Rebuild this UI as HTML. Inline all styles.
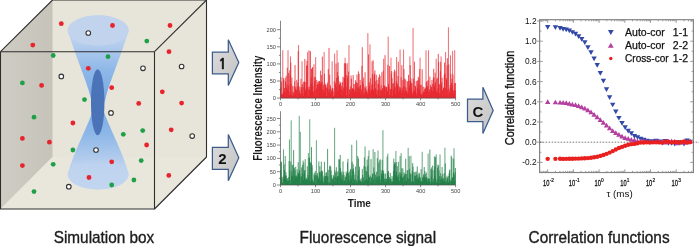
<!DOCTYPE html><html><head><meta charset="utf-8"><title>FCS simulation</title>
<style>html,body{margin:0;padding:0;background:#fff;overflow:hidden}svg{display:block}text{font-family:"Liberation Sans", Arial, sans-serif}</style></head><body>
<svg width="700" height="246" viewBox="0 0 700 246">
<defs>
<linearGradient id="cone" x1="0" y1="0" x2="0" y2="1">
<stop offset="0" stop-color="#c1d4ee"/><stop offset="0.14" stop-color="#bbd1ee"/><stop offset="0.32" stop-color="#8db7e8"/><stop offset="0.5" stop-color="#78a9e3"/><stop offset="0.68" stop-color="#8db7e8"/><stop offset="0.86" stop-color="#bbd1ee"/><stop offset="1" stop-color="#c1d4ee"/>
</linearGradient>
<linearGradient id="bell" x1="0" y1="0" x2="0" y2="1"><stop offset="0" stop-color="#c1d5f0" stop-opacity="0.12"/><stop offset="0.5" stop-color="#c1d5f0" stop-opacity="0.7"/><stop offset="1" stop-color="#c1d5f0" stop-opacity="1"/></linearGradient>
<linearGradient id="lwall" x1="0" y1="0" x2="1" y2="0"><stop offset="0" stop-color="#cfccc3"/><stop offset="1" stop-color="#c6c3ba"/></linearGradient>
<linearGradient id="arr" x1="0" y1="0" x2="1" y2="1"><stop offset="0" stop-color="#dcdcdc"/><stop offset="1" stop-color="#c4c4c4"/></linearGradient>
</defs>
<rect width="700" height="246" fill="#fff"/>
<g id="box">
<polygon points="0.5,51.7 52.5,2.831068712794149e-15 206.5,2.831068712794149e-15 206.5,157.0 154.5,209.0 0.5,209.0" fill="#e7e5d9"/>
<polygon points="0.5,51.7 52.5,2.831068712794149e-15 52.5,157.0 0.5,209.0" fill="url(#lwall)"/>
<polygon points="0.5,209.0 52.5,157.0 206.5,157.0 154.5,209.0" fill="#e9e7dc"/>
</g>
<g id="beam">
<path d="M98.20,15.30 L88.92,16.03 L85.23,16.75 L82.52,17.48 L80.33,18.20 L78.49,18.93 L76.90,19.66 L75.52,20.38 L74.30,21.11 L73.23,21.83 L72.28,22.56 L71.44,23.28 L70.71,24.01 L70.07,24.74 L69.52,25.46 L69.05,26.19 L68.66,26.91 L68.34,27.64 L68.10,28.37 L67.93,29.09 L67.83,29.82 L67.80,30.54 L67.84,31.27 L67.95,31.99 L68.13,32.72 L68.38,33.45 L68.70,34.17 L69.10,34.90 L69.35,35.62 L69.58,36.35 L69.81,37.08 L70.05,37.80 L70.28,38.53 L70.52,39.25 L70.76,39.98 L71.00,40.70 L71.24,41.43 L71.48,42.16 L71.73,42.88 L71.98,43.61 L72.23,44.33 L72.48,45.06 L72.73,45.78 L72.98,46.51 L73.23,47.24 L73.49,47.96 L73.75,48.69 L74.00,49.41 L74.26,50.14 L74.52,50.87 L74.78,51.59 L75.04,52.32 L75.30,53.04 L75.56,53.77 L75.83,54.50 L76.09,55.22 L76.36,55.95 L76.62,56.67 L76.89,57.40 L77.15,58.12 L77.42,58.85 L77.68,59.58 L77.95,60.30 L78.22,61.03 L78.49,61.75 L78.75,62.48 L79.02,63.20 L79.29,63.93 L79.56,64.66 L79.83,65.38 L80.09,66.11 L80.36,66.83 L80.63,67.56 L80.90,68.29 L81.16,69.01 L81.43,69.74 L81.70,70.46 L81.97,71.19 L82.23,71.91 L82.50,72.64 L82.76,73.37 L83.03,74.09 L83.29,74.82 L83.55,75.54 L83.82,76.27 L84.08,77.00 L84.34,77.72 L84.60,78.45 L84.86,79.17 L85.11,79.90 L85.37,80.62 L85.62,81.35 L85.88,82.08 L86.13,82.80 L86.38,83.53 L86.63,84.25 L86.88,84.98 L87.12,85.71 L87.36,86.43 L87.60,87.16 L87.84,87.88 L88.08,88.61 L88.31,89.33 L88.54,90.06 L88.76,90.79 L88.98,91.51 L89.20,92.24 L89.42,92.96 L89.63,93.69 L89.83,94.42 L90.03,95.14 L90.23,95.87 L90.41,96.59 L90.60,97.32 L90.77,98.04 L90.94,98.77 L91.10,99.50 L91.30,100.22 L91.60,100.95 L91.89,101.67 L92.15,102.40 L92.39,103.13 L92.60,103.85 L92.78,104.58 L92.92,105.30 L93.02,106.03 L93.09,106.75 L93.11,107.48 L93.10,108.21 L93.04,108.93 L92.95,109.66 L92.82,110.38 L92.65,111.11 L92.45,111.84 L92.21,112.56 L91.95,113.29 L91.68,114.01 L91.41,114.74 L91.14,115.46 L90.86,116.19 L90.57,116.92 L90.28,117.64 L89.98,118.37 L89.69,119.09 L89.39,119.82 L89.08,120.55 L88.78,121.27 L88.47,122.00 L88.16,122.72 L87.85,123.45 L87.54,124.17 L87.22,124.90 L86.91,125.63 L86.59,126.35 L86.28,127.08 L85.96,127.80 L85.64,128.53 L85.32,129.26 L85.00,129.98 L84.68,130.71 L84.36,131.43 L84.04,132.16 L83.71,132.88 L83.39,133.61 L83.07,134.34 L82.75,135.06 L82.43,135.79 L82.11,136.51 L81.78,137.24 L81.46,137.97 L81.14,138.69 L80.82,139.42 L80.50,140.14 L80.18,140.87 L79.86,141.59 L79.55,142.32 L79.23,143.05 L78.91,143.77 L78.60,144.50 L78.28,145.22 L77.97,145.95 L77.66,146.68 L77.35,147.40 L77.04,148.13 L76.73,148.85 L76.43,149.58 L76.12,150.31 L75.82,151.03 L75.52,151.76 L75.22,152.48 L74.92,153.21 L74.63,153.93 L74.33,154.66 L74.04,155.39 L73.76,156.11 L73.47,156.84 L73.19,157.56 L72.91,158.29 L72.64,159.02 L72.36,159.74 L72.09,160.47 L71.83,161.19 L71.56,161.92 L71.31,162.64 L71.05,163.37 L70.80,164.10 L70.55,164.82 L70.31,165.55 L70.07,166.27 L69.84,167.00 L69.61,167.73 L69.39,168.45 L69.17,169.18 L68.96,169.90 L68.70,170.63 L68.38,171.35 L68.13,172.08 L67.95,172.81 L67.84,173.53 L67.80,174.26 L67.83,174.98 L67.93,175.71 L68.10,176.43 L68.34,177.16 L68.66,177.89 L69.05,178.61 L69.52,179.34 L70.07,180.06 L70.71,180.79 L71.44,181.52 L72.28,182.24 L73.23,182.97 L74.30,183.69 L75.52,184.42 L76.90,185.14 L78.49,185.87 L80.33,186.60 L82.52,187.32 L85.23,188.05 L88.92,188.77 L98.20,189.50 L98.20,189.50 L107.48,188.77 L111.17,188.05 L113.88,187.32 L116.07,186.60 L117.91,185.87 L119.50,185.14 L120.88,184.42 L122.10,183.69 L123.17,182.97 L124.12,182.24 L124.96,181.52 L125.69,180.79 L126.33,180.06 L126.88,179.34 L127.35,178.61 L127.74,177.89 L128.06,177.16 L128.30,176.43 L128.47,175.71 L128.57,174.98 L128.60,174.26 L128.56,173.53 L128.45,172.81 L128.27,172.08 L128.02,171.35 L127.70,170.63 L127.44,169.90 L127.23,169.18 L127.01,168.45 L126.79,167.73 L126.56,167.00 L126.33,166.27 L126.09,165.55 L125.85,164.82 L125.60,164.10 L125.35,163.37 L125.09,162.64 L124.84,161.92 L124.57,161.19 L124.31,160.47 L124.04,159.74 L123.76,159.02 L123.49,158.29 L123.21,157.56 L122.93,156.84 L122.64,156.11 L122.36,155.39 L122.07,154.66 L121.77,153.93 L121.48,153.21 L121.18,152.48 L120.88,151.76 L120.58,151.03 L120.28,150.31 L119.97,149.58 L119.67,148.85 L119.36,148.13 L119.05,147.40 L118.74,146.68 L118.43,145.95 L118.12,145.22 L117.80,144.50 L117.49,143.77 L117.17,143.05 L116.85,142.32 L116.54,141.59 L116.22,140.87 L115.90,140.14 L115.58,139.42 L115.26,138.69 L114.94,137.97 L114.62,137.24 L114.29,136.51 L113.97,135.79 L113.65,135.06 L113.33,134.34 L113.01,133.61 L112.69,132.88 L112.36,132.16 L112.04,131.43 L111.72,130.71 L111.40,129.98 L111.08,129.26 L110.76,128.53 L110.44,127.80 L110.12,127.08 L109.81,126.35 L109.49,125.63 L109.18,124.90 L108.86,124.17 L108.55,123.45 L108.24,122.72 L107.93,122.00 L107.62,121.27 L107.32,120.55 L107.01,119.82 L106.71,119.09 L106.42,118.37 L106.12,117.64 L105.83,116.92 L105.54,116.19 L105.26,115.46 L104.99,114.74 L104.72,114.01 L104.45,113.29 L104.19,112.56 L103.95,111.84 L103.75,111.11 L103.58,110.38 L103.45,109.66 L103.36,108.93 L103.30,108.21 L103.29,107.48 L103.31,106.75 L103.38,106.03 L103.48,105.30 L103.62,104.58 L103.80,103.85 L104.01,103.13 L104.25,102.40 L104.51,101.67 L104.80,100.95 L105.10,100.22 L105.30,99.50 L105.46,98.77 L105.63,98.04 L105.80,97.32 L105.99,96.59 L106.17,95.87 L106.37,95.14 L106.57,94.42 L106.77,93.69 L106.98,92.96 L107.20,92.24 L107.42,91.51 L107.64,90.79 L107.86,90.06 L108.09,89.33 L108.32,88.61 L108.56,87.88 L108.80,87.16 L109.04,86.43 L109.28,85.71 L109.52,84.98 L109.77,84.25 L110.02,83.53 L110.27,82.80 L110.52,82.08 L110.78,81.35 L111.03,80.62 L111.29,79.90 L111.54,79.17 L111.80,78.45 L112.06,77.72 L112.32,77.00 L112.58,76.27 L112.85,75.54 L113.11,74.82 L113.37,74.09 L113.64,73.37 L113.90,72.64 L114.17,71.91 L114.43,71.19 L114.70,70.46 L114.97,69.74 L115.24,69.01 L115.50,68.29 L115.77,67.56 L116.04,66.83 L116.31,66.11 L116.57,65.38 L116.84,64.66 L117.11,63.93 L117.38,63.20 L117.65,62.48 L117.91,61.75 L118.18,61.03 L118.45,60.30 L118.72,59.58 L118.98,58.85 L119.25,58.12 L119.51,57.40 L119.78,56.67 L120.04,55.95 L120.31,55.22 L120.57,54.50 L120.84,53.77 L121.10,53.04 L121.36,52.32 L121.62,51.59 L121.88,50.87 L122.14,50.14 L122.40,49.41 L122.65,48.69 L122.91,47.96 L123.17,47.24 L123.42,46.51 L123.67,45.78 L123.92,45.06 L124.17,44.33 L124.42,43.61 L124.67,42.88 L124.92,42.16 L125.16,41.43 L125.40,40.70 L125.64,39.98 L125.88,39.25 L126.12,38.53 L126.35,37.80 L126.59,37.08 L126.82,36.35 L127.05,35.62 L127.30,34.90 L127.70,34.17 L128.02,33.45 L128.27,32.72 L128.45,31.99 L128.56,31.27 L128.60,30.54 L128.57,29.82 L128.47,29.09 L128.30,28.37 L128.06,27.64 L127.74,26.91 L127.35,26.19 L126.88,25.46 L126.33,24.74 L125.69,24.01 L124.96,23.28 L124.12,22.56 L123.17,21.83 L122.10,21.11 L120.88,20.38 L119.50,19.66 L117.91,18.93 L116.07,18.20 L113.88,17.48 L111.17,16.75 L107.48,16.03 L98.20,15.30Z" fill="url(#cone)"/>
<ellipse cx="98.2" cy="30.5" rx="30.4" ry="15.2" fill="#c2d4ed"/>
<ellipse cx="98.2" cy="174.3" rx="30.4" ry="15.2" fill="url(#bell)"/>
<ellipse cx="97.7" cy="102.3" rx="6.75" ry="33" fill="#4b73b8"/>
</g>
<g id="particles">
<circle cx="61.3" cy="23.7" r="2.4" fill="#e8232b"/>
<circle cx="112.5" cy="25.5" r="2.4" fill="#e8232b"/>
<circle cx="170" cy="25.5" r="2.4" fill="#e8232b"/>
<circle cx="32.8" cy="45.1" r="2.4" fill="#e8232b"/>
<circle cx="169" cy="51.7" r="2.4" fill="#e8232b"/>
<circle cx="88.3" cy="68.3" r="2.4" fill="#e8232b"/>
<circle cx="41.6" cy="85.4" r="2.4" fill="#e8232b"/>
<circle cx="111.7" cy="87.7" r="2.4" fill="#e8232b"/>
<circle cx="162.3" cy="91.8" r="2.4" fill="#e8232b"/>
<circle cx="138.7" cy="103.4" r="2.4" fill="#e8232b"/>
<circle cx="181.6" cy="103.1" r="2.4" fill="#e8232b"/>
<circle cx="72.9" cy="123" r="2.4" fill="#e8232b"/>
<circle cx="171.2" cy="129.8" r="2.4" fill="#e8232b"/>
<circle cx="22.4" cy="138.4" r="2.4" fill="#e8232b"/>
<circle cx="49.4" cy="142.2" r="2.4" fill="#e8232b"/>
<circle cx="146.6" cy="145" r="2.4" fill="#e8232b"/>
<circle cx="111.7" cy="161.8" r="2.4" fill="#e8232b"/>
<circle cx="22.4" cy="165.6" r="2.4" fill="#e8232b"/>
<circle cx="168.8" cy="175.4" r="2.4" fill="#e8232b"/>
<circle cx="89" cy="177.5" r="2.4" fill="#e8232b"/>
<circle cx="146.8" cy="41.1" r="2.4" fill="#1ea049"/>
<circle cx="53.2" cy="55.5" r="2.4" fill="#1ea049"/>
<circle cx="108" cy="56.7" r="2.4" fill="#1ea049"/>
<circle cx="22.4" cy="82.9" r="2.4" fill="#1ea049"/>
<circle cx="84.5" cy="99.6" r="2.4" fill="#1ea049"/>
<circle cx="34" cy="117.2" r="2.4" fill="#1ea049"/>
<circle cx="142.7" cy="130.6" r="2.4" fill="#1ea049"/>
<circle cx="123.3" cy="134.3" r="2.4" fill="#1ea049"/>
<circle cx="72.9" cy="150" r="2.4" fill="#1ea049"/>
<circle cx="141.2" cy="160.6" r="2.4" fill="#1ea049"/>
<circle cx="53.2" cy="164.3" r="2.4" fill="#1ea049"/>
<circle cx="133.9" cy="180" r="2.4" fill="#1ea049"/>
<circle cx="111.7" cy="185" r="2.4" fill="#1ea049"/>
<circle cx="34" cy="191.6" r="2.4" fill="#1ea049"/>
<circle cx="88.3" cy="33" r="2.3" fill="#fff" stroke="#333" stroke-width="1.1"/>
<circle cx="143" cy="68.3" r="2.3" fill="#fff" stroke="#333" stroke-width="1.1"/>
<circle cx="61.3" cy="76.4" r="2.3" fill="#fff" stroke="#333" stroke-width="1.1"/>
<circle cx="181.6" cy="66.5" r="2.3" fill="#fff" stroke="#333" stroke-width="1.1"/>
<circle cx="111" cy="112.9" r="2.3" fill="#fff" stroke="#333" stroke-width="1.1"/>
<circle cx="96" cy="150" r="2.3" fill="#fff" stroke="#333" stroke-width="1.1"/>
<circle cx="192.2" cy="136.1" r="2.3" fill="#fff" stroke="#333" stroke-width="1.1"/>
<circle cx="68.8" cy="186.7" r="2.3" fill="#fff" stroke="#333" stroke-width="1.1"/>
</g>
<g fill="none" stroke="#2e2e2e" stroke-width="1.1" stroke-linejoin="round">
<rect x="0.5" y="51.7" width="154.0" height="157.3"/>
<polyline points="0.5,51.7 52.5,2.831068712794149e-15 206.5,2.831068712794149e-15 206.5,157.0 154.5,209.0"/>
<line x1="154.5" y1="51.7" x2="206.5" y2="2.831068712794149e-15"/>
</g>
<polygon points="212.4,52.2 228.3,52.2 228.3,39.8 238.8,62.6 228.3,85.4 228.3,73.9 212.4,73.9" fill="url(#arr)" stroke="#3d5c8c" stroke-width="1.25"/>
<text x="222.5" y="68.9" font-size="14.2" font-weight="bold" text-anchor="middle" fill="#111" stroke="#111" stroke-width="0.5" style="font-family:NanumGothic,&quot;Liberation Sans&quot;,sans-serif">1</text>
<polygon points="212.4,147.4 228.3,147.4 228.3,134.6 238.8,157.64999999999998 228.3,180.7 228.3,169.4 212.4,169.4" fill="url(#arr)" stroke="#3d5c8c" stroke-width="1.25"/>
<text x="222.5" y="163.84999999999997" font-size="15" font-weight="bold" text-anchor="middle" fill="#111">2</text>
<polygon points="467.5,99 482.9,99 482.9,87.2 493.2,110.4 482.9,133.6 482.9,121.6 467.5,121.6" fill="url(#arr)" stroke="#3d5c8c" stroke-width="1.25"/>
<text x="478" y="116.60000000000001" font-size="15" font-weight="bold" text-anchor="middle" fill="#111">C</text>
<g id="sig1">
<path d="M280.68,98.1V87.69M281.03,98.1V77.20M281.38,98.1V81.75M281.73,98.1V94.47M282.08,98.1V95.23M282.43,98.1V94.08M283.13,98.1V92.54M283.48,98.1V78.26M283.83,98.1V80.29M284.18,98.1V92.01M284.53,98.1V88.06M284.88,98.1V91.11M285.23,98.1V77.75M285.58,98.1V81.35M285.93,98.1V94.41M286.28,98.1V75.73M286.63,98.1V87.93M286.98,98.1V84.31M287.33,98.1V67.73M287.68,98.1V89.60M288.38,98.1V72.84M288.73,98.1V85.28M289.08,98.1V91.81M289.43,98.1V95.16M289.78,98.1V70.31M290.13,98.1V74.91M290.83,98.1V62.55M291.18,98.1V83.70M291.53,98.1V94.38M291.88,98.1V77.37M292.23,98.1V86.14M292.58,98.1V95.90M292.93,98.1V91.42M293.28,98.1V94.43M293.63,98.1V92.39M293.98,98.1V86.00M294.33,98.1V93.74M294.68,98.1V81.29M295.03,98.1V65.13M295.38,98.1V88.78M295.73,98.1V86.83M296.08,98.1V91.22M296.43,98.1V89.85M296.78,98.1V79.83M297.13,98.1V97.19M297.48,98.1V86.56M297.83,98.1V82.42M298.19,98.1V51.35M298.89,98.1V85.97M299.24,98.1V93.08M299.59,98.1V90.43M299.94,98.1V87.29M300.29,98.1V93.14M300.64,98.1V95.76M300.99,98.1V78.83M301.34,98.1V89.40M301.69,98.1V86.69M302.39,98.1V83.94M302.74,98.1V93.59M303.09,98.1V87.23M303.44,98.1V95.88M303.79,98.1V82.01M304.14,98.1V81.50M304.49,98.1V82.01M304.84,98.1V59.01M305.19,98.1V89.19M305.54,98.1V91.44M305.89,98.1V81.86M306.24,98.1V87.55M306.59,98.1V65.99M306.94,98.1V60.73M307.29,98.1V65.24M307.99,98.1V86.91M308.34,98.1V95.64M308.69,98.1V89.24M309.04,98.1V50.40M309.39,98.1V86.68M309.74,98.1V90.00M310.09,98.1V90.54M310.44,98.1V51.14M310.79,98.1V83.54M311.14,98.1V76.73M311.49,98.1V68.83M311.84,98.1V83.58M312.19,98.1V68.22M312.54,98.1V67.10M312.89,98.1V85.88M313.24,98.1V91.37M313.59,98.1V91.83M313.94,98.1V64.28M314.29,98.1V76.89M314.64,98.1V81.32M314.99,98.1V96.37M315.34,98.1V77.25M316.05,98.1V90.38M316.40,98.1V88.44M316.75,98.1V79.94M317.10,98.1V85.26M317.45,98.1V84.17M317.80,98.1V81.89M318.15,98.1V96.11M318.50,98.1V83.72M318.85,98.1V81.04M319.20,98.1V82.33M319.55,98.1V80.90M319.90,98.1V88.82M320.25,98.1V82.67M320.60,98.1V70.67M320.95,98.1V84.59M321.30,98.1V82.74M321.65,98.1V75.06M322.00,98.1V81.84M322.35,98.1V56.60M322.70,98.1V89.23M323.05,98.1V92.19M323.40,98.1V84.62M323.75,98.1V89.68M324.45,98.1V73.69M324.80,98.1V92.04M325.15,98.1V83.31M325.50,98.1V84.92M325.85,98.1V87.32M326.20,98.1V87.82M326.55,98.1V96.07M326.90,98.1V84.67M327.25,98.1V87.50M327.60,98.1V82.53M327.95,98.1V89.09M328.30,98.1V69.12M328.65,98.1V92.38M329.00,98.1V47.90M329.35,98.1V89.25M329.70,98.1V74.62M330.05,98.1V94.48M330.40,98.1V85.09M330.75,98.1V87.32M331.10,98.1V92.39M331.45,98.1V89.73M331.80,98.1V91.58M332.50,98.1V88.15M332.85,98.1V88.51M333.21,98.1V91.18M333.56,98.1V96.14M333.91,98.1V96.30M334.26,98.1V81.23M334.96,98.1V93.01M335.31,98.1V84.90M335.66,98.1V82.71M336.01,98.1V63.56M336.36,98.1V77.88M336.71,98.1V87.11M337.41,98.1V72.07M337.76,98.1V91.53M338.11,98.1V62.38M338.46,98.1V76.24M338.81,98.1V89.64M339.16,98.1V84.13M339.51,98.1V84.52M339.86,98.1V81.37M340.21,98.1V86.25M340.56,98.1V82.83M340.91,98.1V82.77M341.26,98.1V89.12M341.61,98.1V85.78M341.96,98.1V95.91M342.31,98.1V89.86M342.66,98.1V81.98M343.01,98.1V76.88M343.36,98.1V87.64M343.71,98.1V91.88M344.06,98.1V77.55M344.41,98.1V63.18M344.76,98.1V78.26M345.46,98.1V63.22M345.81,98.1V64.29M346.16,98.1V75.03M346.51,98.1V95.50M346.86,98.1V86.78M347.21,98.1V63.11M347.56,98.1V78.25M347.91,98.1V75.71M348.26,98.1V97.29M348.61,98.1V71.55M349.31,98.1V94.20M349.66,98.1V89.41M350.01,98.1V89.09M350.36,98.1V90.52M350.72,98.1V86.22M351.07,98.1V75.55M351.42,98.1V78.71M351.77,98.1V93.84M352.12,98.1V89.36M352.47,98.1V88.16M352.82,98.1V89.01M353.17,98.1V75.09M353.52,98.1V88.49M353.87,98.1V83.98M354.22,98.1V92.68M354.57,98.1V90.66M354.92,98.1V84.14M355.27,98.1V89.02M355.62,98.1V80.13M355.97,98.1V82.15M356.32,98.1V92.31M356.67,98.1V82.64M357.02,98.1V74.46M357.37,98.1V83.17M357.72,98.1V88.22M358.07,98.1V87.20M358.42,98.1V71.37M358.77,98.1V92.63M359.12,98.1V73.88M359.47,98.1V88.51M359.82,98.1V85.95M360.17,98.1V79.83M360.52,98.1V85.01M360.87,98.1V94.81M361.22,98.1V89.09M361.57,98.1V90.89M361.92,98.1V65.94M362.27,98.1V47.24M362.62,98.1V81.30M362.97,98.1V94.77M363.32,98.1V84.38M363.67,98.1V77.50M364.02,98.1V94.78M364.37,98.1V92.44M364.72,98.1V87.20M365.07,98.1V72.20M365.42,98.1V89.22M365.77,98.1V88.25M366.12,98.1V85.91M366.47,98.1V91.57M366.82,98.1V90.17M367.17,98.1V92.13M367.52,98.1V93.45M368.23,98.1V89.26M368.58,98.1V54.35M368.93,98.1V85.43M369.28,98.1V82.14M369.63,98.1V87.34M370.33,98.1V92.48M370.68,98.1V78.16M371.03,98.1V90.26M371.38,98.1V89.49M371.73,98.1V84.52M372.08,98.1V61.32M372.43,98.1V74.09M372.78,98.1V83.73M373.13,98.1V60.29M373.48,98.1V89.49M373.83,98.1V91.75M374.18,98.1V75.64M374.53,98.1V73.34M374.88,98.1V70.30M375.23,98.1V81.22M375.58,98.1V88.18M375.93,98.1V89.41M376.28,98.1V74.73M376.63,98.1V94.06M376.98,98.1V80.07M377.33,98.1V90.08M377.68,98.1V96.63M378.03,98.1V84.09M378.38,98.1V77.49M378.73,98.1V83.67M379.08,98.1V89.53M379.43,98.1V74.38M379.78,98.1V95.94M380.13,98.1V76.04M380.48,98.1V89.29M380.83,98.1V95.37M381.18,98.1V85.22M381.53,98.1V90.69M381.88,98.1V72.19M382.23,98.1V90.52M382.58,98.1V87.99M382.93,98.1V89.91M383.28,98.1V70.63M383.98,98.1V85.31M384.33,98.1V85.94M384.68,98.1V85.94M385.03,98.1V55.15M385.38,98.1V87.56M385.74,98.1V95.46M386.09,98.1V86.32M386.44,98.1V87.50M386.79,98.1V87.01M387.14,98.1V92.54M387.49,98.1V90.47M387.84,98.1V64.86M388.54,98.1V83.72M388.89,98.1V86.69M389.24,98.1V95.53M389.59,98.1V65.96M389.94,98.1V94.31M390.29,98.1V89.29M390.64,98.1V88.93M391.34,98.1V73.66M391.69,98.1V71.00M392.04,98.1V77.97M392.39,98.1V95.82M392.74,98.1V83.67M393.09,98.1V89.43M393.44,98.1V83.12M393.79,98.1V91.05M394.14,98.1V72.24M394.49,98.1V69.65M394.84,98.1V87.59M395.19,98.1V86.75M395.54,98.1V93.79M395.89,98.1V71.21M396.24,98.1V81.18M396.94,98.1V82.96M397.29,98.1V84.49M397.64,98.1V85.32M397.99,98.1V76.05M398.34,98.1V61.57M398.69,98.1V92.61M399.04,98.1V88.42M399.39,98.1V86.47M399.74,98.1V90.66M400.44,98.1V87.63M400.79,98.1V89.90M401.14,98.1V77.08M401.49,98.1V93.12M401.84,98.1V65.15M402.19,98.1V88.42M402.54,98.1V90.89M402.89,98.1V80.06M403.25,98.1V86.49M403.95,98.1V69.23M404.30,98.1V93.02M404.65,98.1V78.58M405.00,98.1V86.58M405.35,98.1V90.55M405.70,98.1V79.43M406.05,98.1V87.61M406.40,98.1V91.00M406.75,98.1V90.56M407.10,98.1V81.34M407.45,98.1V93.14M407.80,98.1V81.26M408.15,98.1V93.43M408.50,98.1V74.91M408.85,98.1V88.67M409.20,98.1V80.68M409.55,98.1V85.33M410.25,98.1V65.00M410.60,98.1V81.21M410.95,98.1V78.49M411.30,98.1V82.78M411.65,98.1V88.67M412.00,98.1V83.21M412.35,98.1V92.46M412.70,98.1V94.63M413.40,98.1V78.57M413.75,98.1V91.61M414.10,98.1V90.12M414.45,98.1V61.66M414.80,98.1V91.05M415.15,98.1V85.77M415.50,98.1V86.20M415.85,98.1V89.53M416.20,98.1V80.83M416.55,98.1V95.20M416.90,98.1V92.70M417.25,98.1V81.27M417.60,98.1V88.12M417.95,98.1V80.08M418.30,98.1V76.82M418.65,98.1V84.73M419.00,98.1V78.63M419.35,98.1V89.81M419.70,98.1V69.04M420.40,98.1V92.98M420.76,98.1V84.94M421.11,98.1V84.63M421.46,98.1V95.10M421.81,98.1V93.69M422.16,98.1V69.24M422.51,98.1V94.60M422.86,98.1V86.34M423.21,98.1V92.21M423.56,98.1V91.49M423.91,98.1V87.02M424.26,98.1V91.64M424.61,98.1V88.87M424.96,98.1V92.03M425.31,98.1V89.15M425.66,98.1V87.81M426.36,98.1V81.93M426.71,98.1V86.80M427.06,98.1V81.09M427.41,98.1V85.92M427.76,98.1V89.11M428.11,98.1V80.28M428.81,98.1V91.20M429.16,98.1V94.81M429.51,98.1V89.37M429.86,98.1V76.58M430.21,98.1V91.88M430.56,98.1V84.90M430.91,98.1V90.00M431.26,98.1V86.92M431.61,98.1V86.87M431.96,98.1V80.04M432.31,98.1V90.54M432.66,98.1V83.68M433.01,98.1V91.88M433.36,98.1V77.78M433.71,98.1V68.85M434.06,98.1V77.48M434.41,98.1V87.04M434.76,98.1V84.58M435.11,98.1V72.57M435.46,98.1V81.90M435.81,98.1V89.75M436.51,98.1V92.06M436.86,98.1V79.08M437.21,98.1V77.63M437.56,98.1V91.25M437.91,98.1V88.26M438.27,98.1V53.87M438.62,98.1V61.94M438.97,98.1V83.96M439.32,98.1V84.33M439.67,98.1V93.03M440.02,98.1V95.17M440.37,98.1V71.45M440.72,98.1V61.81M441.42,98.1V84.79M441.77,98.1V82.17M442.12,98.1V77.61M442.47,98.1V90.24M442.82,98.1V96.31M443.17,98.1V89.79M443.52,98.1V87.62M443.87,98.1V87.58M444.22,98.1V75.05M444.57,98.1V62.59M444.92,98.1V73.16M445.27,98.1V88.08M445.97,98.1V95.06M446.32,98.1V77.98M446.67,98.1V79.78M447.02,98.1V65.32M447.37,98.1V58.23M447.72,98.1V90.51M448.07,98.1V95.35M448.77,98.1V64.45M449.12,98.1V88.57M449.47,98.1V93.24M449.82,98.1V90.52M450.17,98.1V85.13M450.87,98.1V73.71M451.22,98.1V87.76M451.57,98.1V82.80M451.92,98.1V78.65M452.27,98.1V85.42M452.97,98.1V74.38M453.32,98.1V90.25M453.67,98.1V93.44M454.02,98.1V90.59M454.37,98.1V83.20M455.07,98.1V90.29M455.42,98.1V82.97" stroke="#e6222a" stroke-width="0.78" fill="none"/>
<path d="M282.78,98.1V50.22M288.03,98.1V50.22M290.48,98.1V56.38M298.54,98.1V45.09M302.04,98.1V61.16M307.64,98.1V51.93M315.70,98.1V57.06M324.10,98.1V51.93M332.15,98.1V61.16M334.61,98.1V53.64M337.06,98.1V50.22M345.11,98.1V57.74M348.96,98.1V45.09M367.87,98.1V33.12M369.98,98.1V44.41M383.63,98.1V58.77M388.19,98.1V36.54M390.99,98.1V57.74M396.59,98.1V57.06M400.09,98.1V49.54M403.60,98.1V49.54M409.90,98.1V56.38M413.05,98.1V27.99M420.05,98.1V57.74M426.01,98.1V50.22M428.46,98.1V50.22M436.16,98.1V58.77M441.07,98.1V56.38M445.62,98.1V51.93M448.42,98.1V27.31M450.52,98.1V55.35M452.62,98.1V50.90M454.72,98.1V50.22" stroke="#e6222a" stroke-width="0.9" fill="none" opacity="0.75"/>
</g>
<g id="sig2">
<path d="M280.68,185.0V170.17M281.03,185.0V161.75M281.38,185.0V161.83M281.73,185.0V177.56M282.08,185.0V176.78M282.43,185.0V182.41M282.78,185.0V183.81M283.13,185.0V179.26M283.83,185.0V175.34M284.18,185.0V164.24M284.53,185.0V169.78M284.88,185.0V178.11M285.23,185.0V156.01M285.58,185.0V175.84M285.93,185.0V172.15M286.28,185.0V175.31M286.63,185.0V179.71M286.98,185.0V178.58M287.33,185.0V181.13M287.68,185.0V178.11M288.03,185.0V181.04M288.38,185.0V180.55M288.73,185.0V176.99M289.08,185.0V161.15M289.78,185.0V170.11M290.13,185.0V180.25M290.48,185.0V183.57M290.83,185.0V161.49M291.53,185.0V175.28M291.88,185.0V171.35M292.23,185.0V165.11M292.58,185.0V176.03M292.93,185.0V164.59M293.28,185.0V179.87M293.63,185.0V150.07M293.98,185.0V167.39M294.33,185.0V168.37M294.68,185.0V175.50M295.03,185.0V170.48M295.38,185.0V176.26M295.73,185.0V166.71M296.08,185.0V179.49M296.43,185.0V175.47M296.78,185.0V176.48M297.13,185.0V169.45M297.48,185.0V176.90M297.83,185.0V173.22M298.19,185.0V162.25M298.54,185.0V173.89M298.89,185.0V172.30M299.59,185.0V170.06M299.94,185.0V173.82M300.64,185.0V183.02M300.99,185.0V176.68M301.34,185.0V176.28M301.69,185.0V167.48M302.04,185.0V179.23M302.39,185.0V165.08M302.74,185.0V173.68M303.09,185.0V160.56M303.44,185.0V180.16M303.79,185.0V162.65M304.14,185.0V170.25M304.49,185.0V172.68M304.84,185.0V170.08M305.19,185.0V159.13M305.54,185.0V178.71M305.89,185.0V181.68M306.24,185.0V177.58M306.59,185.0V179.19M306.94,185.0V179.43M307.29,185.0V166.24M307.64,185.0V179.58M307.99,185.0V174.89M308.69,185.0V177.43M309.04,185.0V157.86M309.39,185.0V157.47M310.09,185.0V181.36M310.44,185.0V162.67M310.79,185.0V181.19M311.14,185.0V162.29M311.49,185.0V147.07M311.84,185.0V167.74M312.19,185.0V165.05M312.54,185.0V179.24M312.89,185.0V181.42M313.24,185.0V182.98M313.59,185.0V181.33M313.94,185.0V174.43M314.29,185.0V172.66M314.64,185.0V176.27M314.99,185.0V182.63M315.34,185.0V171.15M315.70,185.0V174.77M316.05,185.0V183.57M316.75,185.0V175.01M317.10,185.0V175.92M317.45,185.0V172.92M317.80,185.0V178.73M318.15,185.0V176.59M318.50,185.0V179.11M318.85,185.0V161.41M319.20,185.0V178.29M319.55,185.0V171.92M319.90,185.0V166.19M320.25,185.0V173.17M320.60,185.0V180.54M320.95,185.0V171.18M321.30,185.0V161.65M321.65,185.0V171.07M322.00,185.0V170.53M322.35,185.0V171.60M322.70,185.0V180.15M323.05,185.0V175.41M323.40,185.0V182.12M323.75,185.0V183.49M324.10,185.0V177.30M324.45,185.0V161.86M324.80,185.0V179.35M325.15,185.0V176.21M325.50,185.0V176.02M325.85,185.0V172.52M326.20,185.0V181.79M326.55,185.0V172.28M326.90,185.0V175.67M327.25,185.0V176.93M327.60,185.0V148.92M327.95,185.0V176.41M328.30,185.0V169.85M328.65,185.0V184.56M329.00,185.0V181.74M329.35,185.0V182.37M329.70,185.0V166.37M330.05,185.0V165.56M330.40,185.0V183.17M330.75,185.0V166.69M331.10,185.0V170.46M331.45,185.0V175.34M331.80,185.0V179.42M332.15,185.0V184.14M332.50,185.0V178.40M332.85,185.0V180.96M333.21,185.0V174.73M333.56,185.0V177.33M333.91,185.0V175.84M334.26,185.0V181.33M334.96,185.0V170.42M335.31,185.0V176.96M335.66,185.0V172.54M336.01,185.0V182.94M336.36,185.0V167.22M336.71,185.0V178.01M337.06,185.0V171.44M337.41,185.0V176.06M337.76,185.0V177.15M338.11,185.0V171.42M338.46,185.0V176.19M338.81,185.0V159.15M339.16,185.0V183.36M339.51,185.0V159.58M339.86,185.0V172.38M340.21,185.0V154.91M340.56,185.0V168.13M340.91,185.0V177.73M341.26,185.0V172.93M341.61,185.0V180.36M341.96,185.0V171.24M342.31,185.0V175.23M342.66,185.0V179.41M343.01,185.0V161.43M343.36,185.0V182.38M343.71,185.0V172.14M344.06,185.0V174.96M344.41,185.0V180.55M344.76,185.0V180.70M345.11,185.0V177.42M345.46,185.0V176.62M345.81,185.0V182.03M346.16,185.0V171.57M346.51,185.0V173.88M346.86,185.0V183.57M347.21,185.0V172.53M347.56,185.0V162.45M347.91,185.0V158.86M348.26,185.0V180.35M348.61,185.0V172.82M348.96,185.0V175.40M349.31,185.0V171.54M349.66,185.0V181.77M350.01,185.0V179.37M350.36,185.0V170.01M350.72,185.0V168.81M351.07,185.0V175.62M351.42,185.0V179.39M351.77,185.0V144.81M352.12,185.0V161.87M352.47,185.0V169.77M352.82,185.0V183.04M353.17,185.0V164.21M353.52,185.0V168.49M353.87,185.0V171.76M354.22,185.0V182.04M354.57,185.0V179.37M354.92,185.0V174.85M355.27,185.0V179.70M355.62,185.0V166.49M355.97,185.0V183.51M356.32,185.0V180.01M357.02,185.0V181.42M357.37,185.0V182.20M357.72,185.0V156.12M358.07,185.0V175.53M358.42,185.0V158.40M358.77,185.0V170.48M359.12,185.0V179.99M359.47,185.0V166.68M359.82,185.0V181.33M360.17,185.0V179.21M360.52,185.0V181.14M360.87,185.0V180.92M361.22,185.0V178.27M361.57,185.0V181.88M361.92,185.0V183.02M362.27,185.0V168.87M362.62,185.0V174.94M362.97,185.0V179.36M363.32,185.0V177.39M363.67,185.0V182.19M364.02,185.0V165.97M364.37,185.0V157.36M364.72,185.0V180.61M365.42,185.0V180.71M365.77,185.0V166.79M366.12,185.0V171.18M366.47,185.0V179.07M366.82,185.0V171.05M367.17,185.0V159.60M367.52,185.0V180.33M367.87,185.0V165.61M368.23,185.0V156.16M368.58,185.0V174.56M369.28,185.0V177.34M369.63,185.0V177.26M369.98,185.0V184.57M370.33,185.0V175.68M370.68,185.0V181.76M371.03,185.0V159.10M371.38,185.0V178.22M371.73,185.0V177.05M372.08,185.0V182.92M372.43,185.0V174.04M372.78,185.0V173.39M373.48,185.0V179.49M373.83,185.0V167.44M374.18,185.0V184.04M374.53,185.0V172.24M374.88,185.0V152.03M375.23,185.0V183.29M375.58,185.0V174.55M375.93,185.0V178.97M376.28,185.0V176.55M376.63,185.0V171.75M376.98,185.0V181.29M377.33,185.0V158.08M377.68,185.0V176.90M378.38,185.0V176.76M378.73,185.0V162.63M379.08,185.0V179.66M379.43,185.0V175.91M379.78,185.0V160.29M380.13,185.0V159.25M380.48,185.0V183.09M380.83,185.0V179.51M381.18,185.0V170.31M381.53,185.0V173.57M381.88,185.0V175.97M382.23,185.0V159.83M382.58,185.0V169.97M383.28,185.0V173.26M383.63,185.0V170.73M383.98,185.0V173.86M384.33,185.0V178.50M384.68,185.0V181.77M385.03,185.0V179.17M385.38,185.0V173.49M385.74,185.0V181.70M386.09,185.0V178.72M386.44,185.0V178.82M386.79,185.0V182.38M387.14,185.0V156.44M387.49,185.0V172.43M388.19,185.0V175.34M388.54,185.0V171.04M388.89,185.0V178.41M389.24,185.0V179.99M389.59,185.0V177.01M389.94,185.0V184.24M390.29,185.0V172.84M390.64,185.0V178.88M390.99,185.0V178.69M391.34,185.0V181.09M391.69,185.0V182.91M392.04,185.0V175.81M392.39,185.0V181.97M392.74,185.0V181.16M393.09,185.0V177.62M393.44,185.0V170.91M393.79,185.0V158.61M394.14,185.0V165.25M394.49,185.0V163.89M394.84,185.0V161.99M395.19,185.0V163.46M395.54,185.0V174.44M396.24,185.0V162.09M396.59,185.0V171.23M396.94,185.0V175.53M397.29,185.0V166.17M397.64,185.0V176.86M397.99,185.0V176.99M398.34,185.0V161.82M398.69,185.0V174.40M399.04,185.0V180.64M399.39,185.0V181.32M399.74,185.0V172.08M400.09,185.0V155.97M400.44,185.0V176.11M400.79,185.0V172.59M401.49,185.0V173.93M401.84,185.0V168.11M402.19,185.0V177.52M402.54,185.0V177.65M402.89,185.0V168.51M403.25,185.0V182.16M403.60,185.0V176.65M403.95,185.0V172.31M404.30,185.0V175.81M404.65,185.0V173.59M405.00,185.0V180.87M405.35,185.0V174.06M405.70,185.0V158.67M406.05,185.0V181.12M406.40,185.0V174.09M406.75,185.0V180.57M407.10,185.0V170.41M407.45,185.0V177.61M407.80,185.0V170.17M408.50,185.0V178.48M408.85,185.0V184.61M409.20,185.0V156.13M409.55,185.0V168.88M409.90,185.0V174.44M410.25,185.0V179.21M410.60,185.0V173.56M411.30,185.0V181.75M411.65,185.0V182.14M412.00,185.0V173.80M412.35,185.0V171.03M412.70,185.0V163.11M413.05,185.0V166.59M413.40,185.0V180.90M413.75,185.0V182.16M414.10,185.0V172.06M414.45,185.0V175.59M414.80,185.0V183.07M415.15,185.0V172.04M415.50,185.0V175.82M415.85,185.0V178.33M416.20,185.0V171.39M416.55,185.0V174.50M416.90,185.0V179.62M417.25,185.0V166.42M417.60,185.0V178.44M417.95,185.0V174.78M418.30,185.0V179.61M418.65,185.0V177.51M419.00,185.0V172.70M419.35,185.0V173.49M419.70,185.0V176.60M420.05,185.0V181.71M420.40,185.0V177.64M420.76,185.0V180.52M421.11,185.0V169.04M421.46,185.0V181.13M421.81,185.0V182.29M422.51,185.0V177.61M422.86,185.0V177.14M423.21,185.0V180.23M423.56,185.0V174.26M423.91,185.0V175.52M424.26,185.0V167.06M424.61,185.0V177.32M424.96,185.0V171.20M425.31,185.0V174.05M425.66,185.0V179.14M426.01,185.0V176.98M426.36,185.0V172.51M426.71,185.0V176.88M427.06,185.0V180.76M427.41,185.0V178.22M427.76,185.0V181.98M428.46,185.0V178.66M428.81,185.0V178.40M429.16,185.0V181.66M429.51,185.0V178.92M429.86,185.0V149.53M430.21,185.0V181.55M430.56,185.0V183.68M430.91,185.0V169.07M431.26,185.0V176.41M431.61,185.0V167.43M431.96,185.0V170.46M432.31,185.0V181.86M432.66,185.0V165.53M433.01,185.0V181.02M433.36,185.0V178.55M433.71,185.0V183.43M434.06,185.0V170.10M434.41,185.0V156.48M434.76,185.0V166.52M435.11,185.0V175.92M435.46,185.0V157.12M435.81,185.0V178.85M436.16,185.0V154.48M436.51,185.0V183.23M436.86,185.0V181.94M437.21,185.0V180.19M437.56,185.0V167.65M437.91,185.0V164.69M438.27,185.0V178.94M438.62,185.0V165.26M438.97,185.0V170.48M439.32,185.0V183.08M439.67,185.0V176.07M440.37,185.0V179.30M440.72,185.0V173.21M441.07,185.0V182.96M441.42,185.0V176.43M441.77,185.0V178.41M442.12,185.0V167.03M442.47,185.0V179.71M442.82,185.0V173.99M443.17,185.0V178.61M443.52,185.0V181.38M443.87,185.0V177.98M444.22,185.0V173.08M444.57,185.0V180.90M445.27,185.0V163.43M445.62,185.0V181.87M445.97,185.0V177.47M446.32,185.0V182.94M446.67,185.0V180.41M447.02,185.0V175.63M447.37,185.0V178.15M447.72,185.0V177.42M448.07,185.0V182.46M448.42,185.0V181.98M448.77,185.0V175.94M449.12,185.0V173.23M449.47,185.0V170.50M449.82,185.0V169.53M450.17,185.0V179.57M450.52,185.0V183.74M450.87,185.0V180.61M451.22,185.0V155.66M451.57,185.0V180.91M451.92,185.0V157.58M452.27,185.0V178.11M452.62,185.0V177.31M452.97,185.0V177.29M453.32,185.0V172.53M453.67,185.0V158.76M454.37,185.0V174.53M454.72,185.0V181.10M455.07,185.0V172.09M455.42,185.0V167.98" stroke="#1b7c41" stroke-width="0.75" fill="none"/>
<path d="M283.48,185.0V149.36M289.43,185.0V139.51M291.18,185.0V120.36M299.24,185.0V115.84M300.29,185.0V131.80M308.34,185.0V153.08M309.74,185.0V119.30M316.40,185.0V140.31M334.61,185.0V127.81M356.67,185.0V140.31M365.07,185.0V146.43M368.93,185.0V150.42M373.13,185.0V149.09M378.03,185.0V150.42M382.93,185.0V130.20M387.84,185.0V153.61M395.89,185.0V150.95M401.14,185.0V153.08M408.15,185.0V147.76M410.95,185.0V155.74M422.16,185.0V151.75M428.11,185.0V153.61M440.02,185.0V154.41M444.92,185.0V147.76M454.02,185.0V148.29" stroke="#1b7c41" stroke-width="0.9" fill="none" opacity="0.75"/>
</g>
<g stroke="#555" stroke-width="0.7" fill="none">
<path d="M280.5,20.7V98.1H455.6"/>
<path d="M280.5,111.2V185.0H455.6"/>
<path d="M276.9,98.10H280.5M276.9,81.00H280.5M276.9,63.90H280.5M276.9,46.80H280.5M276.9,29.70H280.5M278.9,89.55H280.5M278.9,72.45H280.5M278.9,55.35H280.5M278.9,38.25H280.5M276.9,185.00H280.5M276.9,171.70H280.5M276.9,158.40H280.5M276.9,145.10H280.5M276.9,131.80H280.5M276.9,118.50H280.5M278.9,178.35H280.5M278.9,165.05H280.5M278.9,151.75H280.5M278.9,138.45H280.5M278.9,125.15H280.5M280.50,98.1v2.2M315.52,98.1v2.2M350.54,98.1v2.2M385.56,98.1v2.2M420.58,98.1v2.2M455.60,98.1v2.2M298.01,98.1v1.3M333.03,98.1v1.3M368.05,98.1v1.3M403.07,98.1v1.3M438.09,98.1v1.3M280.50,185.0v2.2M315.52,185.0v2.2M350.54,185.0v2.2M385.56,185.0v2.2M420.58,185.0v2.2M455.60,185.0v2.2M298.01,185.0v1.3M333.03,185.0v1.3M368.05,185.0v1.3M403.07,185.0v1.3M438.09,185.0v1.3"/>
</g>
<g font-size="5.6" fill="#444">
<text x="275.9" y="100.10" text-anchor="end">0</text>
<text x="275.9" y="83.00" text-anchor="end">50</text>
<text x="275.9" y="65.90" text-anchor="end">100</text>
<text x="275.9" y="48.80" text-anchor="end">150</text>
<text x="275.9" y="31.70" text-anchor="end">200</text>
<text x="275.9" y="187.00" text-anchor="end">0</text>
<text x="275.9" y="173.70" text-anchor="end">50</text>
<text x="275.9" y="160.40" text-anchor="end">100</text>
<text x="275.9" y="147.10" text-anchor="end">150</text>
<text x="275.9" y="133.80" text-anchor="end">200</text>
<text x="275.9" y="120.50" text-anchor="end">250</text>
<text x="280.50" y="106.10" text-anchor="middle">0</text>
<text x="315.52" y="106.10" text-anchor="middle">100</text>
<text x="350.54" y="106.10" text-anchor="middle">200</text>
<text x="385.56" y="106.10" text-anchor="middle">300</text>
<text x="420.58" y="106.10" text-anchor="middle">400</text>
<text x="455.60" y="106.10" text-anchor="middle">500</text>
<text x="280.50" y="193.30" text-anchor="middle">0</text>
<text x="315.52" y="193.30" text-anchor="middle">100</text>
<text x="350.54" y="193.30" text-anchor="middle">200</text>
<text x="385.56" y="193.30" text-anchor="middle">300</text>
<text x="420.58" y="193.30" text-anchor="middle">400</text>
<text x="455.60" y="193.30" text-anchor="middle">500</text>
</g>
<text x="359.3" y="206.8" font-size="10" font-weight="bold" text-anchor="middle" fill="#222">Time</text>
<text transform="translate(262.0,108.2) rotate(-90)" font-size="12.8" font-weight="bold" text-anchor="middle" fill="#1a1a1a" textLength="105" lengthAdjust="spacingAndGlyphs">Fluorescence Intensity</text>
<g id="corr">
<rect x="539.6" y="19.7" width="153.79999999999995" height="152.8" fill="#fff" stroke="#858585" stroke-width="1.2"/>
<path d="M537.0,162.40h5.8M693.4,162.40h-3.2M537.0,142.20h5.8M693.4,142.20h-3.2M539.6,152.30h1.8M693.4,152.30h-1.8M537.0,122.00h5.8M693.4,122.00h-3.2M539.6,132.10h1.8M693.4,132.10h-1.8M537.0,101.80h5.8M693.4,101.80h-3.2M539.6,111.90h1.8M693.4,111.90h-1.8M537.0,81.60h5.8M693.4,81.60h-3.2M539.6,91.70h1.8M693.4,91.70h-1.8M537.0,61.40h5.8M693.4,61.40h-3.2M539.6,71.50h1.8M693.4,71.50h-1.8M537.0,41.20h5.8M693.4,41.20h-3.2M539.6,51.30h1.8M693.4,51.30h-1.8M537.0,21.00h5.8M693.4,21.00h-3.2M539.6,31.10h1.8M693.4,31.10h-1.8M539.96,172.5v-1.6M539.96,19.7v1.6M542.00,172.5v-1.6M542.00,19.7v1.6M543.72,172.5v-1.6M543.72,19.7v1.6M545.21,172.5v-1.6M545.21,19.7v1.6M546.52,172.5v-1.6M546.52,19.7v1.6M547.70,172.5v-3.2M547.70,19.7v3.2M555.44,172.5v-1.6M555.44,19.7v1.6M559.96,172.5v-1.6M559.96,19.7v1.6M563.17,172.5v-1.6M563.17,19.7v1.6M565.66,172.5v-1.6M565.66,19.7v1.6M567.70,172.5v-1.6M567.70,19.7v1.6M569.42,172.5v-1.6M569.42,19.7v1.6M570.91,172.5v-1.6M570.91,19.7v1.6M572.22,172.5v-1.6M572.22,19.7v1.6M573.40,172.5v-3.2M573.40,19.7v3.2M581.14,172.5v-1.6M581.14,19.7v1.6M585.66,172.5v-1.6M585.66,19.7v1.6M588.87,172.5v-1.6M588.87,19.7v1.6M591.36,172.5v-1.6M591.36,19.7v1.6M593.40,172.5v-1.6M593.40,19.7v1.6M595.12,172.5v-1.6M595.12,19.7v1.6M596.61,172.5v-1.6M596.61,19.7v1.6M597.92,172.5v-1.6M597.92,19.7v1.6M599.10,172.5v-3.2M599.10,19.7v3.2M606.84,172.5v-1.6M606.84,19.7v1.6M611.36,172.5v-1.6M611.36,19.7v1.6M614.57,172.5v-1.6M614.57,19.7v1.6M617.06,172.5v-1.6M617.06,19.7v1.6M619.10,172.5v-1.6M619.10,19.7v1.6M620.82,172.5v-1.6M620.82,19.7v1.6M622.31,172.5v-1.6M622.31,19.7v1.6M623.62,172.5v-1.6M623.62,19.7v1.6M624.80,172.5v-3.2M624.80,19.7v3.2M632.54,172.5v-1.6M632.54,19.7v1.6M637.06,172.5v-1.6M637.06,19.7v1.6M640.27,172.5v-1.6M640.27,19.7v1.6M642.76,172.5v-1.6M642.76,19.7v1.6M644.80,172.5v-1.6M644.80,19.7v1.6M646.52,172.5v-1.6M646.52,19.7v1.6M648.01,172.5v-1.6M648.01,19.7v1.6M649.32,172.5v-1.6M649.32,19.7v1.6M650.50,172.5v-3.2M650.50,19.7v3.2M658.24,172.5v-1.6M658.24,19.7v1.6M662.76,172.5v-1.6M662.76,19.7v1.6M665.97,172.5v-1.6M665.97,19.7v1.6M668.46,172.5v-1.6M668.46,19.7v1.6M670.50,172.5v-1.6M670.50,19.7v1.6M672.22,172.5v-1.6M672.22,19.7v1.6M673.71,172.5v-1.6M673.71,19.7v1.6M675.02,172.5v-1.6M675.02,19.7v1.6M676.20,172.5v-3.2M676.20,19.7v3.2M683.94,172.5v-1.6M683.94,19.7v1.6M688.46,172.5v-1.6M688.46,19.7v1.6M691.67,172.5v-1.6M691.67,19.7v1.6" stroke="#858585" stroke-width="0.8" fill="none"/>
<line x1="539.6" y1="142.20" x2="699" y2="142.20" stroke="#444" stroke-width="0.7" stroke-dasharray="1.6,1.4"/>
<path d="M545.00,25.01h5.4l-2.7,4.7zM552.71,25.30h5.4l-2.7,4.7zM557.34,26.02h5.4l-2.7,4.7zM560.42,26.94h5.4l-2.7,4.7zM563.52,27.55h5.4l-2.7,4.7zM566.62,28.61h5.4l-2.7,4.7zM569.72,30.16h5.4l-2.7,4.7zM572.82,31.87h5.4l-2.7,4.7zM575.92,34.26h5.4l-2.7,4.7zM579.02,36.95h5.4l-2.7,4.7zM582.12,40.25h5.4l-2.7,4.7zM585.22,45.33h5.4l-2.7,4.7zM588.31,50.20h5.4l-2.7,4.7zM591.41,56.54h5.4l-2.7,4.7zM594.51,63.08h5.4l-2.7,4.7zM597.61,70.97h5.4l-2.7,4.7zM600.71,78.79h5.4l-2.7,4.7zM603.81,87.26h5.4l-2.7,4.7zM606.91,95.29h5.4l-2.7,4.7zM610.01,102.63h5.4l-2.7,4.7zM613.11,109.57h5.4l-2.7,4.7zM616.21,115.89h5.4l-2.7,4.7zM619.31,120.97h5.4l-2.7,4.7zM622.41,125.35h5.4l-2.7,4.7zM625.51,128.78h5.4l-2.7,4.7zM628.61,131.35h5.4l-2.7,4.7zM631.71,134.00h5.4l-2.7,4.7zM634.81,135.17h5.4l-2.7,4.7zM637.91,136.81h5.4l-2.7,4.7zM641.00,137.83h5.4l-2.7,4.7zM644.10,138.79h5.4l-2.7,4.7zM647.20,139.20h5.4l-2.7,4.7zM650.30,139.27h5.4l-2.7,4.7zM653.40,138.72h5.4l-2.7,4.7zM656.50,139.56h5.4l-2.7,4.7zM659.60,140.87h5.4l-2.7,4.7zM662.70,138.99h5.4l-2.7,4.7zM665.80,141.06h5.4l-2.7,4.7zM668.90,141.01h5.4l-2.7,4.7zM672.00,141.86h5.4l-2.7,4.7zM675.10,140.28h5.4l-2.7,4.7zM678.20,140.39h5.4l-2.7,4.7zM681.30,141.92h5.4l-2.7,4.7zM684.40,138.51h5.4l-2.7,4.7zM687.50,139.69h5.4l-2.7,4.7z" fill="#3349a8"/>
<path d="M545.00,103.91h5.4l-2.7,-4.7zM552.71,104.33h5.4l-2.7,-4.7zM557.34,104.58h5.4l-2.7,-4.7zM560.42,104.82h5.4l-2.7,-4.7zM563.52,105.06h5.4l-2.7,-4.7zM566.62,105.70h5.4l-2.7,-4.7zM569.72,106.38h5.4l-2.7,-4.7zM572.82,107.00h5.4l-2.7,-4.7zM575.92,107.95h5.4l-2.7,-4.7zM579.02,109.13h5.4l-2.7,-4.7zM582.12,110.56h5.4l-2.7,-4.7zM585.22,112.14h5.4l-2.7,-4.7zM588.31,114.32h5.4l-2.7,-4.7zM591.41,116.66h5.4l-2.7,-4.7zM594.51,119.23h5.4l-2.7,-4.7zM597.61,122.06h5.4l-2.7,-4.7zM600.71,124.80h5.4l-2.7,-4.7zM603.81,127.52h5.4l-2.7,-4.7zM606.91,130.24h5.4l-2.7,-4.7zM610.01,132.90h5.4l-2.7,-4.7zM613.11,134.99h5.4l-2.7,-4.7zM616.21,136.79h5.4l-2.7,-4.7zM619.31,138.48h5.4l-2.7,-4.7zM622.41,140.03h5.4l-2.7,-4.7zM625.51,140.66h5.4l-2.7,-4.7zM628.61,141.79h5.4l-2.7,-4.7zM631.71,142.30h5.4l-2.7,-4.7zM634.81,143.26h5.4l-2.7,-4.7zM637.91,143.35h5.4l-2.7,-4.7zM641.00,142.94h5.4l-2.7,-4.7zM644.10,143.51h5.4l-2.7,-4.7zM647.20,143.76h5.4l-2.7,-4.7zM650.30,144.04h5.4l-2.7,-4.7zM653.40,143.32h5.4l-2.7,-4.7zM656.50,143.58h5.4l-2.7,-4.7zM659.60,143.46h5.4l-2.7,-4.7zM662.70,144.59h5.4l-2.7,-4.7zM665.80,143.60h5.4l-2.7,-4.7zM668.90,143.25h5.4l-2.7,-4.7zM672.00,143.68h5.4l-2.7,-4.7zM675.10,145.37h5.4l-2.7,-4.7zM678.20,144.31h5.4l-2.7,-4.7zM681.30,144.41h5.4l-2.7,-4.7zM684.40,144.30h5.4l-2.7,-4.7zM687.50,143.51h5.4l-2.7,-4.7z" fill="#b33f9e"/>
<circle cx="547.70" cy="158.84" r="2.2" fill="#e8201f"/>
<circle cx="555.41" cy="158.83" r="2.2" fill="#e8201f"/>
<circle cx="560.04" cy="158.77" r="2.2" fill="#e8201f"/>
<circle cx="563.12" cy="158.88" r="2.2" fill="#e8201f"/>
<circle cx="566.22" cy="158.86" r="2.2" fill="#e8201f"/>
<circle cx="569.32" cy="158.72" r="2.2" fill="#e8201f"/>
<circle cx="572.42" cy="158.70" r="2.2" fill="#e8201f"/>
<circle cx="575.52" cy="158.61" r="2.2" fill="#e8201f"/>
<circle cx="578.62" cy="158.58" r="2.2" fill="#e8201f"/>
<circle cx="581.72" cy="158.42" r="2.2" fill="#e8201f"/>
<circle cx="584.82" cy="158.21" r="2.2" fill="#e8201f"/>
<circle cx="587.92" cy="158.11" r="2.2" fill="#e8201f"/>
<circle cx="591.01" cy="157.81" r="2.2" fill="#e8201f"/>
<circle cx="594.11" cy="157.26" r="2.2" fill="#e8201f"/>
<circle cx="597.21" cy="156.79" r="2.2" fill="#e8201f"/>
<circle cx="600.31" cy="155.90" r="2.2" fill="#e8201f"/>
<circle cx="603.41" cy="155.07" r="2.2" fill="#e8201f"/>
<circle cx="606.51" cy="153.83" r="2.2" fill="#e8201f"/>
<circle cx="609.61" cy="152.60" r="2.2" fill="#e8201f"/>
<circle cx="612.71" cy="151.10" r="2.2" fill="#e8201f"/>
<circle cx="615.81" cy="149.51" r="2.2" fill="#e8201f"/>
<circle cx="618.91" cy="148.06" r="2.2" fill="#e8201f"/>
<circle cx="622.01" cy="146.89" r="2.2" fill="#e8201f"/>
<circle cx="625.11" cy="145.72" r="2.2" fill="#e8201f"/>
<circle cx="628.21" cy="144.72" r="2.2" fill="#e8201f"/>
<circle cx="631.31" cy="144.15" r="2.2" fill="#e8201f"/>
<circle cx="634.41" cy="143.89" r="2.2" fill="#e8201f"/>
<circle cx="637.51" cy="143.29" r="2.2" fill="#e8201f"/>
<circle cx="640.61" cy="142.57" r="2.2" fill="#e8201f"/>
<circle cx="643.70" cy="142.44" r="2.2" fill="#e8201f"/>
<circle cx="646.80" cy="142.24" r="2.2" fill="#e8201f"/>
<circle cx="649.90" cy="142.59" r="2.2" fill="#e8201f"/>
<circle cx="653.00" cy="142.35" r="2.2" fill="#e8201f"/>
<circle cx="656.10" cy="142.28" r="2.2" fill="#e8201f"/>
<circle cx="659.20" cy="142.38" r="2.2" fill="#e8201f"/>
<circle cx="662.30" cy="142.58" r="2.2" fill="#e8201f"/>
<circle cx="665.40" cy="141.57" r="2.2" fill="#e8201f"/>
<circle cx="668.50" cy="141.67" r="2.2" fill="#e8201f"/>
<circle cx="671.60" cy="142.53" r="2.2" fill="#e8201f"/>
<circle cx="674.70" cy="141.95" r="2.2" fill="#e8201f"/>
<circle cx="677.80" cy="142.23" r="2.2" fill="#e8201f"/>
<circle cx="680.90" cy="142.31" r="2.2" fill="#e8201f"/>
<circle cx="684.00" cy="141.53" r="2.2" fill="#e8201f"/>
<circle cx="687.10" cy="142.47" r="2.2" fill="#e8201f"/>
<circle cx="690.20" cy="141.93" r="2.2" fill="#e8201f"/>
<path d="M607.9,29.9h5.8l-2.9,5.0z" fill="#3349a8"/>
<path d="M607.9,47.7h5.8l-2.9,-5.0z" fill="#b33f9e"/>
<circle cx="610.8" cy="58.5" r="1.7" fill="#e8201f"/>
<g font-size="10.5" fill="#111" stroke="#111" stroke-width="0.25">
<text x="625.1" y="36.2">Auto-cor</text><text x="688" y="36.2" text-anchor="end">1-1</text>
<text x="625.1" y="49.3">Auto-cor</text><text x="688" y="49.3" text-anchor="end">2-2</text>
<text x="625.1" y="62.4" textLength="43.6" lengthAdjust="spacingAndGlyphs">Cross-cor</text><text x="688" y="62.4" text-anchor="end">1-2</text>
</g>
<g font-size="8.4" fill="#111">
<text x="536.6" y="165.40" text-anchor="end">-0.2</text>
<text x="536.6" y="145.20" text-anchor="end">0.0</text>
<text x="536.6" y="125.00" text-anchor="end">0.2</text>
<text x="536.6" y="104.80" text-anchor="end">0.4</text>
<text x="536.6" y="84.60" text-anchor="end">0.6</text>
<text x="536.6" y="64.40" text-anchor="end">0.8</text>
<text x="536.6" y="44.20" text-anchor="end">1.0</text>
<text x="536.6" y="24.00" text-anchor="end">1.2</text>
<text x="543.10" y="186.2" textLength="6.4" lengthAdjust="spacingAndGlyphs" font-size="8.6" stroke="#111" stroke-width="0.3">10</text><text x="549.70" y="182.2" font-size="4.8" stroke="#111" stroke-width="0.2">-2</text>
<text x="568.80" y="186.2" textLength="6.4" lengthAdjust="spacingAndGlyphs" font-size="8.6" stroke="#111" stroke-width="0.3">10</text><text x="575.40" y="182.2" font-size="4.8" stroke="#111" stroke-width="0.2">-1</text>
<text x="594.50" y="186.2" textLength="6.4" lengthAdjust="spacingAndGlyphs" font-size="8.6" stroke="#111" stroke-width="0.3">10</text><text x="601.10" y="182.2" font-size="4.8" stroke="#111" stroke-width="0.2">0</text>
<text x="620.20" y="186.2" textLength="6.4" lengthAdjust="spacingAndGlyphs" font-size="8.6" stroke="#111" stroke-width="0.3">10</text><text x="626.80" y="182.2" font-size="4.8" stroke="#111" stroke-width="0.2">1</text>
<text x="645.90" y="186.2" textLength="6.4" lengthAdjust="spacingAndGlyphs" font-size="8.6" stroke="#111" stroke-width="0.3">10</text><text x="652.50" y="182.2" font-size="4.8" stroke="#111" stroke-width="0.2">2</text>
<text x="671.60" y="186.2" textLength="6.4" lengthAdjust="spacingAndGlyphs" font-size="8.6" stroke="#111" stroke-width="0.3">10</text><text x="678.20" y="182.2" font-size="4.8" stroke="#111" stroke-width="0.2">3</text>
</g>
<text x="619.6" y="196.8" font-size="9.8" text-anchor="middle" fill="#111">τ (ms)</text>
<text transform="translate(514.3,97.9) rotate(-90)" font-size="12" textLength="94.5" lengthAdjust="spacingAndGlyphs" text-anchor="middle" fill="#111" stroke="#111" stroke-width="0.35">Correlation function</text>
</g>
<g font-size="16.2" fill="#1c1c1c" stroke="#1c1c1c" stroke-width="0.35">
<text x="104" y="243.1" text-anchor="middle" textLength="100.6" lengthAdjust="spacingAndGlyphs">Simulation box</text>
<text x="367.8" y="243.1" text-anchor="middle" textLength="136.5" lengthAdjust="spacingAndGlyphs">Fluorescence signal</text>
<text x="599.1" y="243.1" text-anchor="middle" textLength="141" lengthAdjust="spacingAndGlyphs">Correlation functions</text>
</g>
</svg></body></html>
